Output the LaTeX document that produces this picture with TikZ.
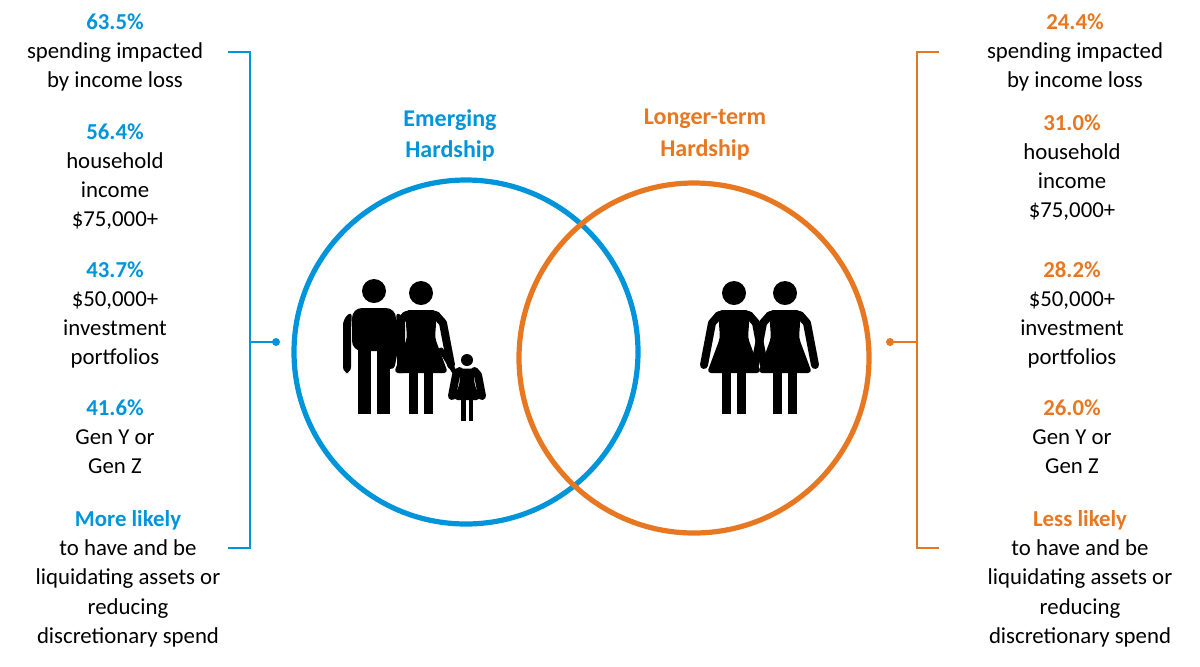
\documentclass[tikz,border=0pt]{standalone}
\usepackage{fontspec}
\setmainfont{Carlito}
\usetikzlibrary{positioning}
\definecolor{blueH}{RGB}{0,149,218}
\definecolor{orangeH}{RGB}{232,119,34}
\tikzset{
  txt/.style={align=center,font=\fontsize{11.4}{14.6}\selectfont,inner sep=0pt,anchor=north},
  pct/.style={font=\fontsize{12}{15.8}\selectfont\bfseries},
  man/.pic={
    \fill (0,0) circle (12);
    \fill[rounded corners=5] (-22,60) -- (-22,17) -- (22,17) -- (22,60) -- cycle;
    \fill[rounded corners=3] (-22,20) -- (-31,28) -- (-31,82) -- (-23,82) -- (-23,40) -- cycle;
    \fill[rounded corners=3] (22,20) -- (31,28) -- (31,82) -- (23,82) -- (23,40) -- cycle;
    \fill (-16,55) rectangle (-3,123);
    \fill (3,55) rectangle (16,123);
  },
  woman/.pic={
    \fill (0,0) circle (12);
    \fill[rounded corners=2] (-16,17) -- (16,17) -- (14,45) -- (27,80) -- (-27,80) -- (-14,45) -- cycle;
    \draw[line width=4pt,line cap=round,line join=round] (-15,22) -- (-22,30) -- (-30,72);
    \draw[line width=4pt,line cap=round,line join=round] (15,22) -- (22,30) -- (30,72);
    \fill (-12,78) rectangle (-3,121);
    \fill (3,78) rectangle (12,121);
  }
}
\begin{document}
\begin{tikzpicture}[x=0.5pt,y=-0.5pt]
  \useasboundingbox (0,0) rectangle (1200,666);

  % Circles
  \draw[blueH,line width=2.6pt] (466,352) circle (172);
  \draw[orangeH,line width=2.6pt] (694,358) circle (175);

  % Titles
  \node[txt,pct,blueH] (titleE) at (450,109) {Emerging\\Hardship};
  \node[txt,pct,orangeH] (titleL) at (705,109) {Longer-term\\Hardship};

  % Figures
  \pic at (374,291) {man};
  \pic at (421,293) {woman};
  \pic[scale=0.5] at (467,360) {woman};
  \draw[line width=2.5pt,line cap=round] (441,350) -- (457,376);
  \pic at (734,293) {woman};
  \pic at (785,293) {woman};

  % Brackets
  \draw[blueH,thick] (228,52) -- (250,52) -- (250,548) -- (228,548);
  \draw[blueH,thick] (250,342) -- (276,342);
  \fill[blueH] (276,342) circle (4);
  \draw[orangeH,thick] (939,52) -- (917,52) -- (917,548) -- (939,548);
  \draw[orangeH,thick] (917,342) -- (890,342);
  \fill[orangeH] (890,342) circle (4);

  % Left column
  \node[txt] (l1) at (115,13) {\textcolor{blueH}{\bfseries 63.5\%}\\spending impacted\\by income loss};
  \node[txt] (l2) at (115,123) {\textcolor{blueH}{\bfseries 56.4\%}\\household\\income\\\$75,000+};
  \node[txt] (l3) at (115,261) {\textcolor{blueH}{\bfseries 43.7\%}\\\$50,000+\\investment\\portfolios};
  \node[txt] (l4) at (115,399) {\textcolor{blueH}{\bfseries 41.6\%}\\Gen Y or\\Gen Z};
  \node[txt] (l5) at (128,510) {\textcolor{blueH}{\bfseries More likely}\\to have and be\\liquidating assets or\\reducing\\discretionary spend};

  % Right column
  \node[txt] (r1) at (1075,13) {\textcolor{orangeH}{\bfseries 24.4\%}\\spending impacted\\by income loss};
  \node[txt] (r2) at (1072,114) {\textcolor{orangeH}{\bfseries 31.0\%}\\household\\income\\\$75,000+};
  \node[txt] (r3) at (1072,261) {\textcolor{orangeH}{\bfseries 28.2\%}\\\$50,000+\\investment\\portfolios};
  \node[txt] (r4) at (1072,399) {\textcolor{orangeH}{\bfseries 26.0\%}\\Gen Y or\\Gen Z};
  \node[txt] (r5) at (1080,510) {\textcolor{orangeH}{\bfseries Less likely}\\to have and be\\liquidating assets or\\reducing\\discretionary spend};
\end{tikzpicture}
\end{document}
